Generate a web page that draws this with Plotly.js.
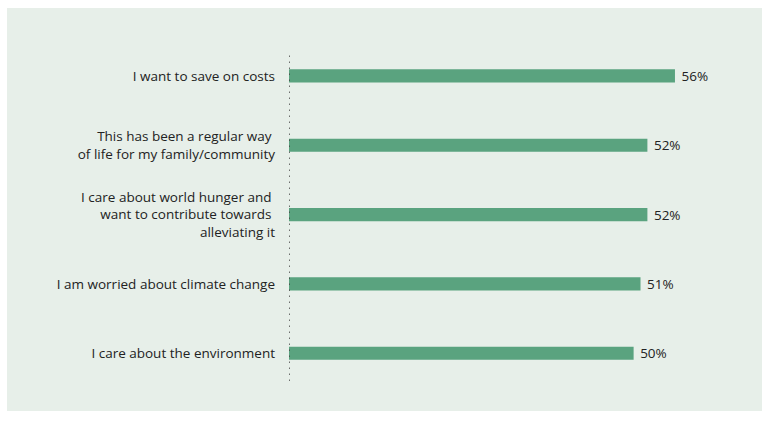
<!DOCTYPE html>
<html>
<head>
<meta charset="utf-8">
<script src="https://cdn.plot.ly/plotly-3.0.1.min.js"></script>
<style>
html, body { margin:0; padding:0; background:#ffffff; width:768px; height:421px; overflow:hidden; }
#chart { position:absolute; left:7px; top:8px; width:755px; height:403px; }
</style>
</head>
<body>
<div id="chart"></div>
<script>
var categories = [
  "I want to save on costs",
  "This has been a regular way <br>of life for my family/community",
  "I care about world hunger and <br>want to contribute towards <br>alleviating it",
  "I am worried about climate change",
  "I care about the environment"
];
var values = [56, 52, 52, 51, 50];
var valueLabels = ["56%", "52%", "52%", "51%", "50%"];

var trace = {
  type: "bar",
  orientation: "h",
  y: categories,
  x: values,
  text: valueLabels.map(function (t) { return "\u00a0" + t; }),
  textposition: "outside",
  constraintext: "none",
  cliponaxis: false,
  textfont: { family: "Open Sans", size: 13.5, color: "#222222" },
  marker: { color: "#5aa37f" },
  width: 0.19,
  hoverinfo: "none"
};

var layout = {
  width: 755,
  height: 403,
  margin: { l: 282, r: 25, t: 45, b: 30 },
  paper_bgcolor: "#e7efe9",
  plot_bgcolor: "rgba(0,0,0,0)",
  showlegend: false,
  font: { family: "Open Sans", size: 13.5, color: "#222222" },
  xaxis: {
    range: [0, 65],
    showgrid: false,
    zeroline: false,
    showticklabels: false,
    ticks: "",
    showline: false,
    fixedrange: true
  },
  yaxis: {
    type: "category",
    range: [4.4, -0.33],
    showgrid: false,
    zeroline: false,
    showline: false,
    ticks: "",
    ticklabelstandoff: 13,
    tickfont: { family: "Open Sans", size: 13.5, color: "#222222" },
    fixedrange: true
  },
  shapes: [{
    type: "line",
    xref: "x", yref: "paper",
    x0: 0, x1: 0, y0: 0, y1: 1,
    line: { color: "#444444", width: 1.5, dash: "1.5px,4.5px" },
    layer: "above"
  }]
};

Plotly.newPlot("chart", [trace], layout, { displayModeBar: false, staticPlot: true });
</script>
</body>
</html>
